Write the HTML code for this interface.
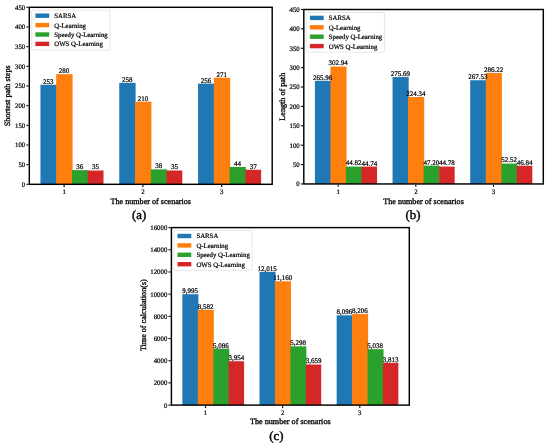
<!DOCTYPE html>
<html><head><meta charset="utf-8"><title>Figure</title>
<style>
html,body{margin:0;padding:0;background:#fff}
svg{display:block}
text{font-family:"Liberation Serif","Times New Roman",serif;fill:#000;stroke:#000;stroke-width:0.22px;text-rendering:geometricPrecision}
.t{font-size:6.8px}
.l{font-size:8.15px;stroke-width:0.32px}
.v{font-size:7px}
.c{font-size:12.8px;stroke-width:0.4px}
</style></head><body>
<svg width="550" height="446" viewBox="0 0 550 446">
<rect width="550" height="446" fill="#fff"/>
<g>
<rect x="40.46" y="84.79" width="16.36" height="99.51" fill="#1f77b4"/>
<rect x="56.22" y="74.17" width="16.36" height="110.13" fill="#ff7f0e"/>
<rect x="71.98" y="170.14" width="16.36" height="14.16" fill="#2ca02c"/>
<rect x="87.74" y="170.53" width="15.76" height="13.77" fill="#d62728"/>
<rect x="119.26" y="82.82" width="16.36" height="101.48" fill="#1f77b4"/>
<rect x="135.02" y="101.70" width="16.36" height="82.60" fill="#ff7f0e"/>
<rect x="150.78" y="169.35" width="16.36" height="14.95" fill="#2ca02c"/>
<rect x="166.54" y="170.53" width="15.76" height="13.77" fill="#d62728"/>
<rect x="198.06" y="83.61" width="16.36" height="100.69" fill="#1f77b4"/>
<rect x="213.82" y="77.71" width="16.36" height="106.59" fill="#ff7f0e"/>
<rect x="229.58" y="166.99" width="16.36" height="17.31" fill="#2ca02c"/>
<rect x="245.34" y="169.75" width="15.76" height="14.55" fill="#d62728"/>
<text class="t v" x="48.34" y="83.69" text-anchor="middle">253</text>
<text class="t v" x="64.10" y="73.07" text-anchor="middle">280</text>
<text class="t v" x="79.86" y="169.04" text-anchor="middle">36</text>
<text class="t v" x="95.62" y="169.43" text-anchor="middle">35</text>
<text class="t v" x="127.14" y="81.72" text-anchor="middle">258</text>
<text class="t v" x="142.90" y="100.60" text-anchor="middle">210</text>
<text class="t v" x="158.66" y="168.25" text-anchor="middle">38</text>
<text class="t v" x="174.42" y="169.43" text-anchor="middle">35</text>
<text class="t v" x="205.94" y="82.51" text-anchor="middle">256</text>
<text class="t v" x="221.70" y="76.61" text-anchor="middle">271</text>
<text class="t v" x="237.46" y="165.89" text-anchor="middle">44</text>
<text class="t v" x="253.22" y="168.65" text-anchor="middle">37</text>
<rect x="29.30" y="7.30" width="242.90" height="177.00" fill="none" stroke="#000" stroke-width="1.45"/>
<line x1="26.38" y1="184.30" x2="28.57" y2="184.30" stroke="#000" stroke-width="1.1"/>
<text class="t" x="25.20" y="186.70" text-anchor="end">0</text>
<line x1="26.38" y1="164.63" x2="28.57" y2="164.63" stroke="#000" stroke-width="1.1"/>
<text class="t" x="25.20" y="167.03" text-anchor="end">50</text>
<line x1="26.38" y1="144.97" x2="28.57" y2="144.97" stroke="#000" stroke-width="1.1"/>
<text class="t" x="25.20" y="147.37" text-anchor="end">100</text>
<line x1="26.38" y1="125.30" x2="28.57" y2="125.30" stroke="#000" stroke-width="1.1"/>
<text class="t" x="25.20" y="127.70" text-anchor="end">150</text>
<line x1="26.38" y1="105.63" x2="28.57" y2="105.63" stroke="#000" stroke-width="1.1"/>
<text class="t" x="25.20" y="108.03" text-anchor="end">200</text>
<line x1="26.38" y1="85.97" x2="28.57" y2="85.97" stroke="#000" stroke-width="1.1"/>
<text class="t" x="25.20" y="88.37" text-anchor="end">250</text>
<line x1="26.38" y1="66.30" x2="28.57" y2="66.30" stroke="#000" stroke-width="1.1"/>
<text class="t" x="25.20" y="68.70" text-anchor="end">300</text>
<line x1="26.38" y1="46.63" x2="28.57" y2="46.63" stroke="#000" stroke-width="1.1"/>
<text class="t" x="25.20" y="49.03" text-anchor="end">350</text>
<line x1="26.38" y1="26.97" x2="28.57" y2="26.97" stroke="#000" stroke-width="1.1"/>
<text class="t" x="25.20" y="29.37" text-anchor="end">400</text>
<line x1="26.38" y1="7.30" x2="28.57" y2="7.30" stroke="#000" stroke-width="1.1"/>
<text class="t" x="25.20" y="9.70" text-anchor="end">450</text>
<line x1="64.10" y1="185.03" x2="64.10" y2="187.22" stroke="#000" stroke-width="1.1"/>
<text class="t" x="64.10" y="194.40" text-anchor="middle">1</text>
<line x1="142.90" y1="185.03" x2="142.90" y2="187.22" stroke="#000" stroke-width="1.1"/>
<text class="t" x="142.90" y="194.40" text-anchor="middle">2</text>
<line x1="221.70" y1="185.03" x2="221.70" y2="187.22" stroke="#000" stroke-width="1.1"/>
<text class="t" x="221.70" y="194.40" text-anchor="middle">3</text>
<text class="l" x="150.75" y="203.60" text-anchor="middle">The number of scenarios</text>
<text class="l" transform="translate(9.60 95.80) rotate(-90)" text-anchor="middle">Shortest path steps</text>
<rect x="31.70" y="10.20" width="78.2" height="39.8" rx="1.3" fill="#fff" fill-opacity="0.8" stroke="#ccc" stroke-opacity="0.8" stroke-width="0.6"/>
<rect x="35.40" y="13.50" width="13.8" height="4.4" fill="#1f77b4"/>
<text class="t" x="54.30" y="18.10">SARSA</text>
<rect x="35.40" y="22.90" width="13.8" height="4.4" fill="#ff7f0e"/>
<text class="t" x="54.30" y="27.50">Q-Learning</text>
<rect x="35.40" y="32.30" width="13.8" height="4.4" fill="#2ca02c"/>
<text class="t" x="54.30" y="36.90">Speedy Q-Learning</text>
<rect x="35.40" y="41.70" width="13.8" height="4.4" fill="#d62728"/>
<text class="t" x="54.30" y="46.30">OWS Q-Learning</text>
<text class="c" x="139.10" y="219.20" text-anchor="middle">(a)</text>
</g>
<g>
<rect x="314.90" y="80.85" width="16.13" height="103.10" fill="#1f77b4"/>
<rect x="330.44" y="66.51" width="16.13" height="117.44" fill="#ff7f0e"/>
<rect x="345.96" y="166.57" width="16.13" height="17.38" fill="#2ca02c"/>
<rect x="361.50" y="166.61" width="15.53" height="17.34" fill="#d62728"/>
<rect x="392.56" y="77.07" width="16.13" height="106.88" fill="#1f77b4"/>
<rect x="408.09" y="96.98" width="16.13" height="86.97" fill="#ff7f0e"/>
<rect x="423.62" y="165.65" width="16.13" height="18.30" fill="#2ca02c"/>
<rect x="439.15" y="166.59" width="15.53" height="17.36" fill="#d62728"/>
<rect x="470.20" y="80.24" width="16.13" height="103.71" fill="#1f77b4"/>
<rect x="485.74" y="72.99" width="16.13" height="110.96" fill="#ff7f0e"/>
<rect x="501.26" y="163.59" width="16.13" height="20.36" fill="#2ca02c"/>
<rect x="516.79" y="165.79" width="15.53" height="18.16" fill="#d62728"/>
<text class="t v" x="322.67" y="79.75" text-anchor="middle">265.96</text>
<text class="t v" x="338.20" y="65.41" text-anchor="middle">302.94</text>
<text class="t v" x="353.73" y="165.47" text-anchor="middle">44.82</text>
<text class="t v" x="369.26" y="165.51" text-anchor="middle">44.74</text>
<text class="t v" x="400.32" y="75.97" text-anchor="middle">275.69</text>
<text class="t v" x="415.85" y="95.88" text-anchor="middle">224.34</text>
<text class="t v" x="431.38" y="164.55" text-anchor="middle">47.20</text>
<text class="t v" x="446.91" y="165.49" text-anchor="middle">44.78</text>
<text class="t v" x="477.97" y="79.14" text-anchor="middle">267.53</text>
<text class="t v" x="493.50" y="71.89" text-anchor="middle">286.22</text>
<text class="t v" x="509.03" y="162.49" text-anchor="middle">52.52</text>
<text class="t v" x="524.56" y="164.69" text-anchor="middle">46.84</text>
<rect x="303.80" y="9.50" width="239.50" height="174.45" fill="none" stroke="#000" stroke-width="1.45"/>
<line x1="300.88" y1="183.95" x2="303.07" y2="183.95" stroke="#000" stroke-width="1.1"/>
<text class="t" x="299.70" y="186.35" text-anchor="end">0</text>
<line x1="300.88" y1="164.57" x2="303.07" y2="164.57" stroke="#000" stroke-width="1.1"/>
<text class="t" x="299.70" y="166.97" text-anchor="end">50</text>
<line x1="300.88" y1="145.18" x2="303.07" y2="145.18" stroke="#000" stroke-width="1.1"/>
<text class="t" x="299.70" y="147.58" text-anchor="end">100</text>
<line x1="300.88" y1="125.80" x2="303.07" y2="125.80" stroke="#000" stroke-width="1.1"/>
<text class="t" x="299.70" y="128.20" text-anchor="end">150</text>
<line x1="300.88" y1="106.42" x2="303.07" y2="106.42" stroke="#000" stroke-width="1.1"/>
<text class="t" x="299.70" y="108.82" text-anchor="end">200</text>
<line x1="300.88" y1="87.03" x2="303.07" y2="87.03" stroke="#000" stroke-width="1.1"/>
<text class="t" x="299.70" y="89.43" text-anchor="end">250</text>
<line x1="300.88" y1="67.65" x2="303.07" y2="67.65" stroke="#000" stroke-width="1.1"/>
<text class="t" x="299.70" y="70.05" text-anchor="end">300</text>
<line x1="300.88" y1="48.27" x2="303.07" y2="48.27" stroke="#000" stroke-width="1.1"/>
<text class="t" x="299.70" y="50.67" text-anchor="end">350</text>
<line x1="300.88" y1="28.88" x2="303.07" y2="28.88" stroke="#000" stroke-width="1.1"/>
<text class="t" x="299.70" y="31.28" text-anchor="end">400</text>
<line x1="300.88" y1="9.50" x2="303.07" y2="9.50" stroke="#000" stroke-width="1.1"/>
<text class="t" x="299.70" y="11.90" text-anchor="end">450</text>
<line x1="338.20" y1="184.67" x2="338.20" y2="186.87" stroke="#000" stroke-width="1.1"/>
<text class="t" x="338.20" y="194.05" text-anchor="middle">1</text>
<line x1="415.85" y1="184.67" x2="415.85" y2="186.87" stroke="#000" stroke-width="1.1"/>
<text class="t" x="415.85" y="194.05" text-anchor="middle">2</text>
<line x1="493.50" y1="184.67" x2="493.50" y2="186.87" stroke="#000" stroke-width="1.1"/>
<text class="t" x="493.50" y="194.05" text-anchor="middle">3</text>
<text class="l" x="423.55" y="203.60" text-anchor="middle">The number of scenarios</text>
<text class="l" transform="translate(284.90 96.72) rotate(-90)" text-anchor="middle">Length of path</text>
<rect x="306.20" y="12.40" width="78.2" height="39.8" rx="1.3" fill="#fff" fill-opacity="0.8" stroke="#ccc" stroke-opacity="0.8" stroke-width="0.6"/>
<rect x="309.90" y="15.70" width="13.8" height="4.4" fill="#1f77b4"/>
<text class="t" x="328.80" y="20.30">SARSA</text>
<rect x="309.90" y="25.10" width="13.8" height="4.4" fill="#ff7f0e"/>
<text class="t" x="328.80" y="29.70">Q-Learning</text>
<rect x="309.90" y="34.50" width="13.8" height="4.4" fill="#2ca02c"/>
<text class="t" x="328.80" y="39.10">Speedy Q-Learning</text>
<rect x="309.90" y="43.90" width="13.8" height="4.4" fill="#d62728"/>
<text class="t" x="328.80" y="48.50">OWS Q-Learning</text>
<text class="c" x="413.00" y="219.40" text-anchor="middle">(b)</text>
</g>
<g>
<rect x="182.35" y="294.22" width="16.03" height="110.88" fill="#1f77b4"/>
<rect x="197.78" y="309.89" width="16.03" height="95.21" fill="#ff7f0e"/>
<rect x="213.22" y="348.68" width="16.03" height="56.42" fill="#2ca02c"/>
<rect x="228.65" y="361.24" width="15.43" height="43.86" fill="#d62728"/>
<rect x="259.50" y="271.81" width="16.03" height="133.29" fill="#1f77b4"/>
<rect x="274.94" y="281.29" width="16.03" height="123.81" fill="#ff7f0e"/>
<rect x="290.36" y="346.33" width="16.03" height="58.77" fill="#2ca02c"/>
<rect x="305.79" y="364.51" width="15.43" height="40.59" fill="#d62728"/>
<rect x="336.66" y="315.29" width="16.03" height="89.82" fill="#1f77b4"/>
<rect x="352.09" y="314.06" width="16.03" height="91.04" fill="#ff7f0e"/>
<rect x="367.51" y="349.21" width="16.03" height="55.89" fill="#2ca02c"/>
<rect x="382.94" y="362.80" width="15.43" height="42.30" fill="#d62728"/>
<text class="t v" x="190.07" y="293.12" text-anchor="middle">9,995</text>
<text class="t v" x="205.50" y="308.79" text-anchor="middle">8,582</text>
<text class="t v" x="220.93" y="347.58" text-anchor="middle">5,086</text>
<text class="t v" x="236.36" y="360.14" text-anchor="middle">3,954</text>
<text class="t v" x="267.22" y="270.71" text-anchor="middle">12,015</text>
<text class="t v" x="282.65" y="280.19" text-anchor="middle">11,160</text>
<text class="t v" x="298.08" y="345.23" text-anchor="middle">5,298</text>
<text class="t v" x="313.51" y="363.41" text-anchor="middle">3,659</text>
<text class="t v" x="344.37" y="314.19" text-anchor="middle">8,096</text>
<text class="t v" x="359.80" y="312.96" text-anchor="middle">8,206</text>
<text class="t v" x="375.23" y="348.11" text-anchor="middle">5,038</text>
<text class="t v" x="390.66" y="361.70" text-anchor="middle">3,813</text>
<rect x="171.40" y="227.60" width="237.90" height="177.50" fill="none" stroke="#000" stroke-width="1.45"/>
<line x1="168.48" y1="405.10" x2="170.68" y2="405.10" stroke="#000" stroke-width="1.1"/>
<text class="t" x="167.30" y="407.50" text-anchor="end">0</text>
<line x1="168.48" y1="382.91" x2="170.68" y2="382.91" stroke="#000" stroke-width="1.1"/>
<text class="t" x="167.30" y="385.31" text-anchor="end">2000</text>
<line x1="168.48" y1="360.73" x2="170.68" y2="360.73" stroke="#000" stroke-width="1.1"/>
<text class="t" x="167.30" y="363.12" text-anchor="end">4000</text>
<line x1="168.48" y1="338.54" x2="170.68" y2="338.54" stroke="#000" stroke-width="1.1"/>
<text class="t" x="167.30" y="340.94" text-anchor="end">6000</text>
<line x1="168.48" y1="316.35" x2="170.68" y2="316.35" stroke="#000" stroke-width="1.1"/>
<text class="t" x="167.30" y="318.75" text-anchor="end">8000</text>
<line x1="168.48" y1="294.16" x2="170.68" y2="294.16" stroke="#000" stroke-width="1.1"/>
<text class="t" x="167.30" y="296.56" text-anchor="end">10000</text>
<line x1="168.48" y1="271.98" x2="170.68" y2="271.98" stroke="#000" stroke-width="1.1"/>
<text class="t" x="167.30" y="274.38" text-anchor="end">12000</text>
<line x1="168.48" y1="249.79" x2="170.68" y2="249.79" stroke="#000" stroke-width="1.1"/>
<text class="t" x="167.30" y="252.19" text-anchor="end">14000</text>
<line x1="168.48" y1="227.60" x2="170.68" y2="227.60" stroke="#000" stroke-width="1.1"/>
<text class="t" x="167.30" y="230.00" text-anchor="end">16000</text>
<line x1="205.50" y1="405.83" x2="205.50" y2="408.03" stroke="#000" stroke-width="1.1"/>
<text class="t" x="205.50" y="415.20" text-anchor="middle">1</text>
<line x1="282.65" y1="405.83" x2="282.65" y2="408.03" stroke="#000" stroke-width="1.1"/>
<text class="t" x="282.65" y="415.20" text-anchor="middle">2</text>
<line x1="359.80" y1="405.83" x2="359.80" y2="408.03" stroke="#000" stroke-width="1.1"/>
<text class="t" x="359.80" y="415.20" text-anchor="middle">3</text>
<text class="l" x="290.35" y="424.20" text-anchor="middle">The number of scenarios</text>
<text class="l" transform="translate(146.30 315.15) rotate(-90)" text-anchor="middle">Time of calculation(s)</text>
<rect x="173.80" y="230.50" width="78.2" height="39.8" rx="1.3" fill="#fff" fill-opacity="0.8" stroke="#ccc" stroke-opacity="0.8" stroke-width="0.6"/>
<rect x="177.50" y="233.80" width="13.8" height="4.4" fill="#1f77b4"/>
<text class="t" x="196.40" y="238.40">SARSA</text>
<rect x="177.50" y="243.20" width="13.8" height="4.4" fill="#ff7f0e"/>
<text class="t" x="196.40" y="247.80">Q-Learning</text>
<rect x="177.50" y="252.60" width="13.8" height="4.4" fill="#2ca02c"/>
<text class="t" x="196.40" y="257.20">Speedy Q-Learning</text>
<rect x="177.50" y="262.00" width="13.8" height="4.4" fill="#d62728"/>
<text class="t" x="196.40" y="266.60">OWS Q-Learning</text>
<text class="c" x="276.30" y="440.20" text-anchor="middle">(c)</text>
</g>
</svg>
</body></html>
